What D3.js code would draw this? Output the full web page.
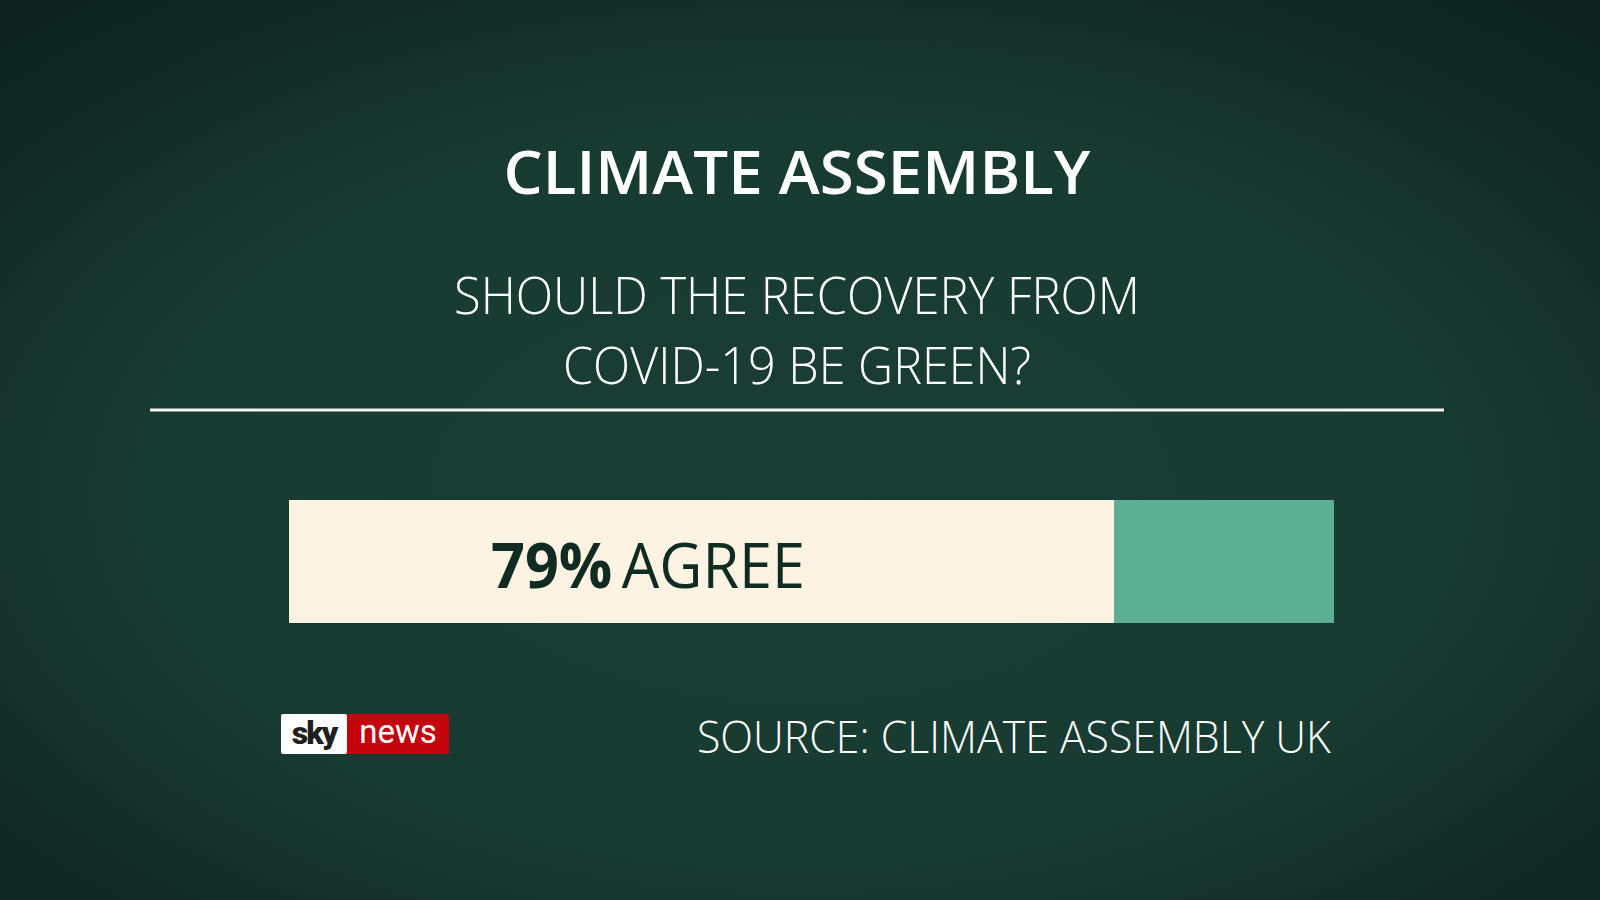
<!DOCTYPE html>
<html>
<head>
<meta charset="utf-8">
<script src="https://cdn.jsdelivr.net/npm/d3@7"></script>
<style>
  html, body { margin: 0; padding: 0; background: #122e28; }
  svg { display: block; }
</style>
</head>
<body>
<svg id="chart" width="1600" height="900"></svg>
<script>
// ---- data ----
const title = "CLIMATE ASSEMBLY";
const questionLines = ["SHOULD THE RECOVERY FROM", "COVID-19 BE GREEN?"];
const categories = ["Agree", "Other"];
const values = [79, 21];
const valueLabel = "79%";
const categoryLabel = "AGREE";
const sourceText = "SOURCE: CLIMATE ASSEMBLY UK";
const barColors = ["#fdf3e2", "#5daf94"];

const W = 1600, H = 900;
const svg = d3.select("#chart");
const defs = svg.append("defs");

// background vignette
const rg = defs.append("radialGradient").attr("id", "bg")
  .attr("cx", "50%").attr("cy", "55%").attr("r", "75%");
rg.append("stop").attr("offset", "0%").attr("stop-color", "#1a3e35");
rg.append("stop").attr("offset", "55%").attr("stop-color", "#173a31");
rg.append("stop").attr("offset", "100%").attr("stop-color", "#0c1f1a");
svg.append("rect").attr("width", W).attr("height", H).attr("fill", "url(#bg)");

// title
svg.append("text")
  .attr("x", 797).attr("y", 194)
  .attr("text-anchor", "middle")
  .attr("font-family", "Open Sans, sans-serif")
  .attr("font-weight", 600)
  .attr("font-size", 60)
  .attr("fill", "#ffffff")
  .attr("textLength", 587).attr("lengthAdjust", "spacingAndGlyphs")
  .text(title);

// question
const qY = [314, 384];
const qW = [686, 468];
svg.selectAll("text.q").data(questionLines).join("text")
  .attr("class", "q")
  .attr("x", 797).attr("y", (d, i) => qY[i])
  .attr("text-anchor", "middle")
  .attr("font-family", "Open Sans, sans-serif")
  .attr("font-weight", 300)
  .attr("font-size", 52)
  .attr("fill", "#ffffff")
  .attr("textLength", (d, i) => qW[i]).attr("lengthAdjust", "spacingAndGlyphs")
  .text(d => d);

// divider
svg.append("line")
  .attr("x1", 150).attr("x2", 1444).attr("y1", 410).attr("y2", 410)
  .attr("stroke", "#f4f4ee").attr("stroke-width", 3);

// stacked bar
const x = d3.scaleLinear().domain([0, d3.sum(values)]).range([289, 1334]);
const y = d3.scaleBand().domain(["q"]).range([500, 623]).padding(0);
const stacked = [];
let acc = 0;
values.forEach((v, i) => { stacked.push({ cat: categories[i], x0: acc, x1: acc + v, color: barColors[i] }); acc += v; });

svg.selectAll("rect.seg").data(stacked).join("rect")
  .attr("class", "seg")
  .attr("x", d => x(d.x0))
  .attr("width", d => x(d.x1) - x(d.x0))
  .attr("y", y("q"))
  .attr("height", y.bandwidth())
  .attr("fill", d => d.color);

// bar label
const lbl = svg.append("text")
  .attr("x", 491).attr("y", 588)
  .attr("font-family", "Open Sans, sans-serif")
  .attr("font-size", 63)
  .attr("fill", "#0f2b22")
  .attr("textLength", 314).attr("lengthAdjust", "spacingAndGlyphs");
lbl.append("tspan").attr("font-weight", 700).text(valueLabel);
lbl.append("tspan").attr("font-weight", 400).attr("dx", 10).text(categoryLabel);

// sky news logo
const logo = svg.append("g").attr("transform", "translate(281,714)");
logo.append("rect").attr("x", 0).attr("y", 0).attr("width", 168).attr("height", 40).attr("fill", "#c4040c").attr("rx", 2);
logo.append("rect").attr("x", 0).attr("y", 0).attr("width", 66).attr("height", 40).attr("fill", "#ffffff").attr("rx", 2);
logo.append("text").attr("x", 33).attr("y", 30)
  .attr("text-anchor", "middle")
  .attr("font-family", "Roboto, sans-serif").attr("font-weight", 900)
  .attr("font-size", 32).attr("letter-spacing", -2)
  .attr("fill", "#1f1f1f").text("sky");
logo.append("text").attr("x", 117).attr("y", 29)
  .attr("text-anchor", "middle")
  .attr("font-family", "Roboto, sans-serif").attr("font-weight", 400)
  .attr("font-size", 33)
  .attr("fill", "#ffffff").text("news");

// source
svg.append("text")
  .attr("x", 1331).attr("y", 753)
  .attr("text-anchor", "end")
  .attr("font-family", "Open Sans, sans-serif")
  .attr("font-weight", 300)
  .attr("font-size", 44)
  .attr("fill", "#ffffff")
  .attr("textLength", 634).attr("lengthAdjust", "spacingAndGlyphs")
  .text(sourceText);
</script>
</body>
</html>
